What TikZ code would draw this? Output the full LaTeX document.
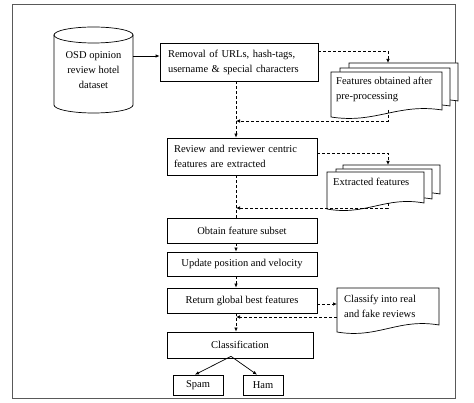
\documentclass[tikz,border=0pt]{standalone}
\usepackage{fontspec}
\setmainfont{Liberation Serif}
\usetikzlibrary{arrows.meta}

% document symbol: left, top, right, bottom-left, bottom-right
\newcommand{\docshape}[5]{%
  \pgfmathsetmacro{\dw}{#3-#1}
  \filldraw[docline] (#1,#2) -- (#3,#2) -- (#3,#5)
    .. controls ({#3-0.4*\dw},{#5-7}) and ({#1+0.4*\dw},{#4+7}) .. (#1,#4) -- cycle;}

\begin{document}
\begin{tikzpicture}[
      x=1pt, y=-1pt,
      font=\fontsize{10.5}{15}\selectfont,
      >={Latex[length=4pt,width=3.5pt]},
      docline/.style={draw=black, fill=white, line width=0.7pt},
      stepbox/.style={draw, line width=0.7pt, minimum width=150pt, inner sep=0pt},
      leftbox/.style={stepbox, align=left, inner xsep=7pt, text width=136pt},
      doctext/.style={anchor=west, align=left, inner sep=0pt},
      solidarrow/.style={->, line width=0.7pt},
      dashline/.style={line width=0.7pt, dash pattern=on 3pt off 2pt},
      dasharrow/.style={dashline, ->},
    ]

    \useasboundingbox (0,0) rectangle (474,403);
    \draw[line width=1pt, gray!70!black] (12,5) rectangle (455,398);

    % dataset cylinder
    \filldraw[docline] (54,35) -- (54,105)
      arc[start angle=180, end angle=0, x radius=39.5, y radius=8] -- (133,35);
    \draw[docline] (93.5,35) ellipse[x radius=39.5, y radius=8];
    \node[minimum width=79pt, minimum height=86pt, inner sep=0pt, align=center]
      (osd) at (93.5,70) {OSD opinion\\review hotel\\dataset};

    % process boxes
    \node[leftbox, minimum width=156pt, text width=142pt, inner xsep=8pt, minimum height=38pt]
      (rem) at (239,62) {Removal of URLs, hash-tags,\\username \& special characters};
    \node[leftbox, minimum height=37pt] (rev) at (242,156.5)
      {Review and reviewer centric\\features are extracted};
    \node[stepbox, minimum height=25pt] (obt) at (242,230.5) {Obtain feature subset};
    \node[stepbox, minimum height=24pt] (upd) at (242,264) {Update position and velocity};
    \node[stepbox, minimum height=25pt] (ret) at (242,300.5) {Return global best features};
    \node[stepbox, minimum width=146pt, minimum height=26pt] (cls) at (240,345) {Classification};
    \node[stepbox, minimum width=50pt, minimum height=20pt] (spam) at (198,385) {Spam};
    \node[stepbox, minimum width=40pt, minimum height=20pt] (ham) at (263,385) {Ham};

    % document stacks
    \docshape{349}{63}{458}{107}{101}
    \docshape{340}{68}{450}{112}{106}
    \docshape{331}{72}{442}{117}{110}
    \node[doctext] (feat) at (336,89.5) {Features obtained after\\pre-processing};

    \docshape{343}{165}{440}{200}{194}
    \docshape{336}{169}{432}{205}{199}
    \docshape{327}{172}{424}{209}{203}
    \node[doctext] (extr) at (333,182) {Extracted features};

    \docshape{337}{288}{439}{332}{325}
    \node[doctext] (clfy) at (344,306.5) {Classify into real\\and fake reviews};

    % connector points
    \coordinate (axis) at (236,0);
    \coordinate (f1in) at (388,63);
    \coordinate (f1out) at (388,110);
    \coordinate (j1) at (236,121);
    \coordinate (f2in) at (388,165);
    \coordinate (f2out) at (388,203);
    \coordinate (j2) at (236,208);
    \coordinate (c3in) at (337,304);
    \coordinate (c3out) at (337,317);
    \coordinate (j3) at (236,317);

    \draw[solidarrow] ([yshift=6pt]rem.west -| osd.east) -- ([yshift=6pt]rem.west);

    \draw[dasharrow] ([yshift=11pt]rem.east) -| (f1in);
    \draw[dasharrow] (f1out) |- (j1);
    \draw[dasharrow] (rem.south -| axis) -- (rev.north -| axis);
    \draw[dasharrow] ([yshift=3.5pt]rev.east) -| (f2in);
    \draw[dasharrow] (f2out) |- (j2);
    \draw[dashline] (rev.south -| axis) -- (obt.north -| axis);
    \draw[dasharrow] (obt.south -| axis) -- (upd.north -| axis);
    \draw[dasharrow] (upd.south -| axis) -- (ret.north -| axis);
    \draw[dasharrow] (ret.south -| axis) -- (cls.north -| axis);
    \draw[dasharrow] (c3in -| ret.east) -- (c3in);
    \draw[dasharrow] (c3out) -- (j3);

    \draw[solidarrow] ([xshift=-9pt,yshift=2pt]cls.south) -- ([xshift=-3pt]spam.north);
    \draw[solidarrow] ([xshift=-9pt,yshift=2pt]cls.south) -- ([xshift=-6pt]ham.north);

  \end{tikzpicture}
\end{document}
